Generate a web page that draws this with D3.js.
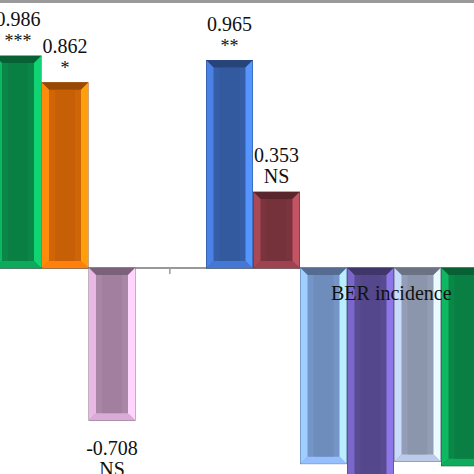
<!DOCTYPE html>
<html>
<head>
<script src="https://d3js.org/d3.v7.min.js"></script>
<style>body{margin:0;background:#fff}</style>
</head>
<body>
<div id="chart"></div>
<script>
// bar values, slot positions, labels
let slots = [0, 1, 2, 4.5, 5.5, 6.5, 7.5, 8.5, 9.5];
let values = [0.986, 0.862, -0.708, 0.965, 0.353, -0.91, -1.02, -0.90, -0.92];
let valueLabels = ["0.986", "0.862", "-0.708", "0.965", "0.353", "", "", "", ""];
let sigLabels = ["***", "*", "NS", "**", "NS", "", "", "", ""];
let colors = ["#0b9a52", "#f07408", "#c49ac0", "#3e6cc0", "#8e3c48", "#86ace6", "#6656a8", "#a9b6d2", "#0c9a52"];

let width = 474, height = 474;
let svg = d3.select("#chart").append("svg").attr("width", width).attr("height", height);

let x = d3.scaleLinear().domain([0, 1]).range([-5, 42]);
let y = d3.scaleLinear().domain([-1, 1]).range([483, 53]);
let barW = 46;

// top frame line
svg.append("rect").attr("x", 0).attr("y", 0).attr("width", width).attr("height", 3).attr("fill", "#9a9a9a");

// zero axis
svg.append("line").attr("x1", 0).attr("x2", width).attr("y1", y(0)).attr("y2", y(0))
    .attr("stroke", "#999").attr("stroke-width", 2);
svg.append("line").attr("x1", x(3.72)).attr("x2", x(3.72)).attr("y1", y(0)).attr("y2", y(0) + 6)
    .attr("stroke", "#999").attr("stroke-width", 1.5);

// beveled bars
let bev = 7;
slots.forEach((s, i) => {
    let x0 = x(s), x1 = x0 + barW;
    let y0 = Math.min(y(values[i]), y(0)), y1 = Math.max(y(values[i]), y(0));
    let c = d3.color(colors[i]);
    let g = svg.append("g");
    g.append("rect").attr("x", x0).attr("y", y0).attr("width", barW).attr("height", y1 - y0)
        .attr("fill", c.darker(0.4)).attr("stroke", c.darker(1.2)).attr("stroke-width", 1);
    let facets = [
        [[x0, y0], [x1, y0], [x1 - bev, y0 + bev], [x0 + bev, y0 + bev], c.darker(1.3)],
        [[x0, y0], [x0 + bev, y0 + bev], [x0 + bev, y1 - bev], [x0, y1], c.brighter(0.5)],
        [[x1, y0], [x1, y1], [x1 - bev, y1 - bev], [x1 - bev, y0 + bev], c.brighter(0.9)],
        [[x0, y1], [x0 + bev, y1 - bev], [x1 - bev, y1 - bev], [x1, y1], c.brighter(0.3)]
    ];
    facets.forEach(f => {
        g.append("polygon").attr("points", f.slice(0, 4).map(p => p.join(",")).join(" ")).attr("fill", f[4]);
    });
    g.append("rect").attr("x", x0 + bev + 6).attr("y", y0 + bev).attr("width", barW - 2 * bev - 12)
        .attr("height", Math.max(0, y1 - y0 - 2 * bev)).attr("fill", c.darker(0.7)).attr("opacity", 0.5);
});

// value labels
let font = "'Liberation Serif', 'Times New Roman', serif";
slots.forEach((s, i) => {
    if (!valueLabels[i]) return;
    let cx = x(s) + barW / 2;
    let top = values[i] >= 0 ? y(values[i]) - 30 : y(values[i]) + 35;
    svg.append("text").attr("x", cx).attr("y", top).attr("text-anchor", "middle")
        .style("font-family", font).style("font-size", "20px").attr("fill", "#111").text(valueLabels[i]);
    svg.append("text").attr("x", cx).attr("y", top + 21).attr("text-anchor", "middle")
        .style("font-family", font).style("font-size", sigLabels[i] === "NS" ? "20px" : "18px")
        .attr("fill", "#111").text(sigLabels[i]);
});

svg.append("text").attr("x", 331).attr("y", 300)
    .style("font-family", font).style("font-size", "20px").attr("fill", "#111").text("BER incidence");
</script>
</body>
</html>
